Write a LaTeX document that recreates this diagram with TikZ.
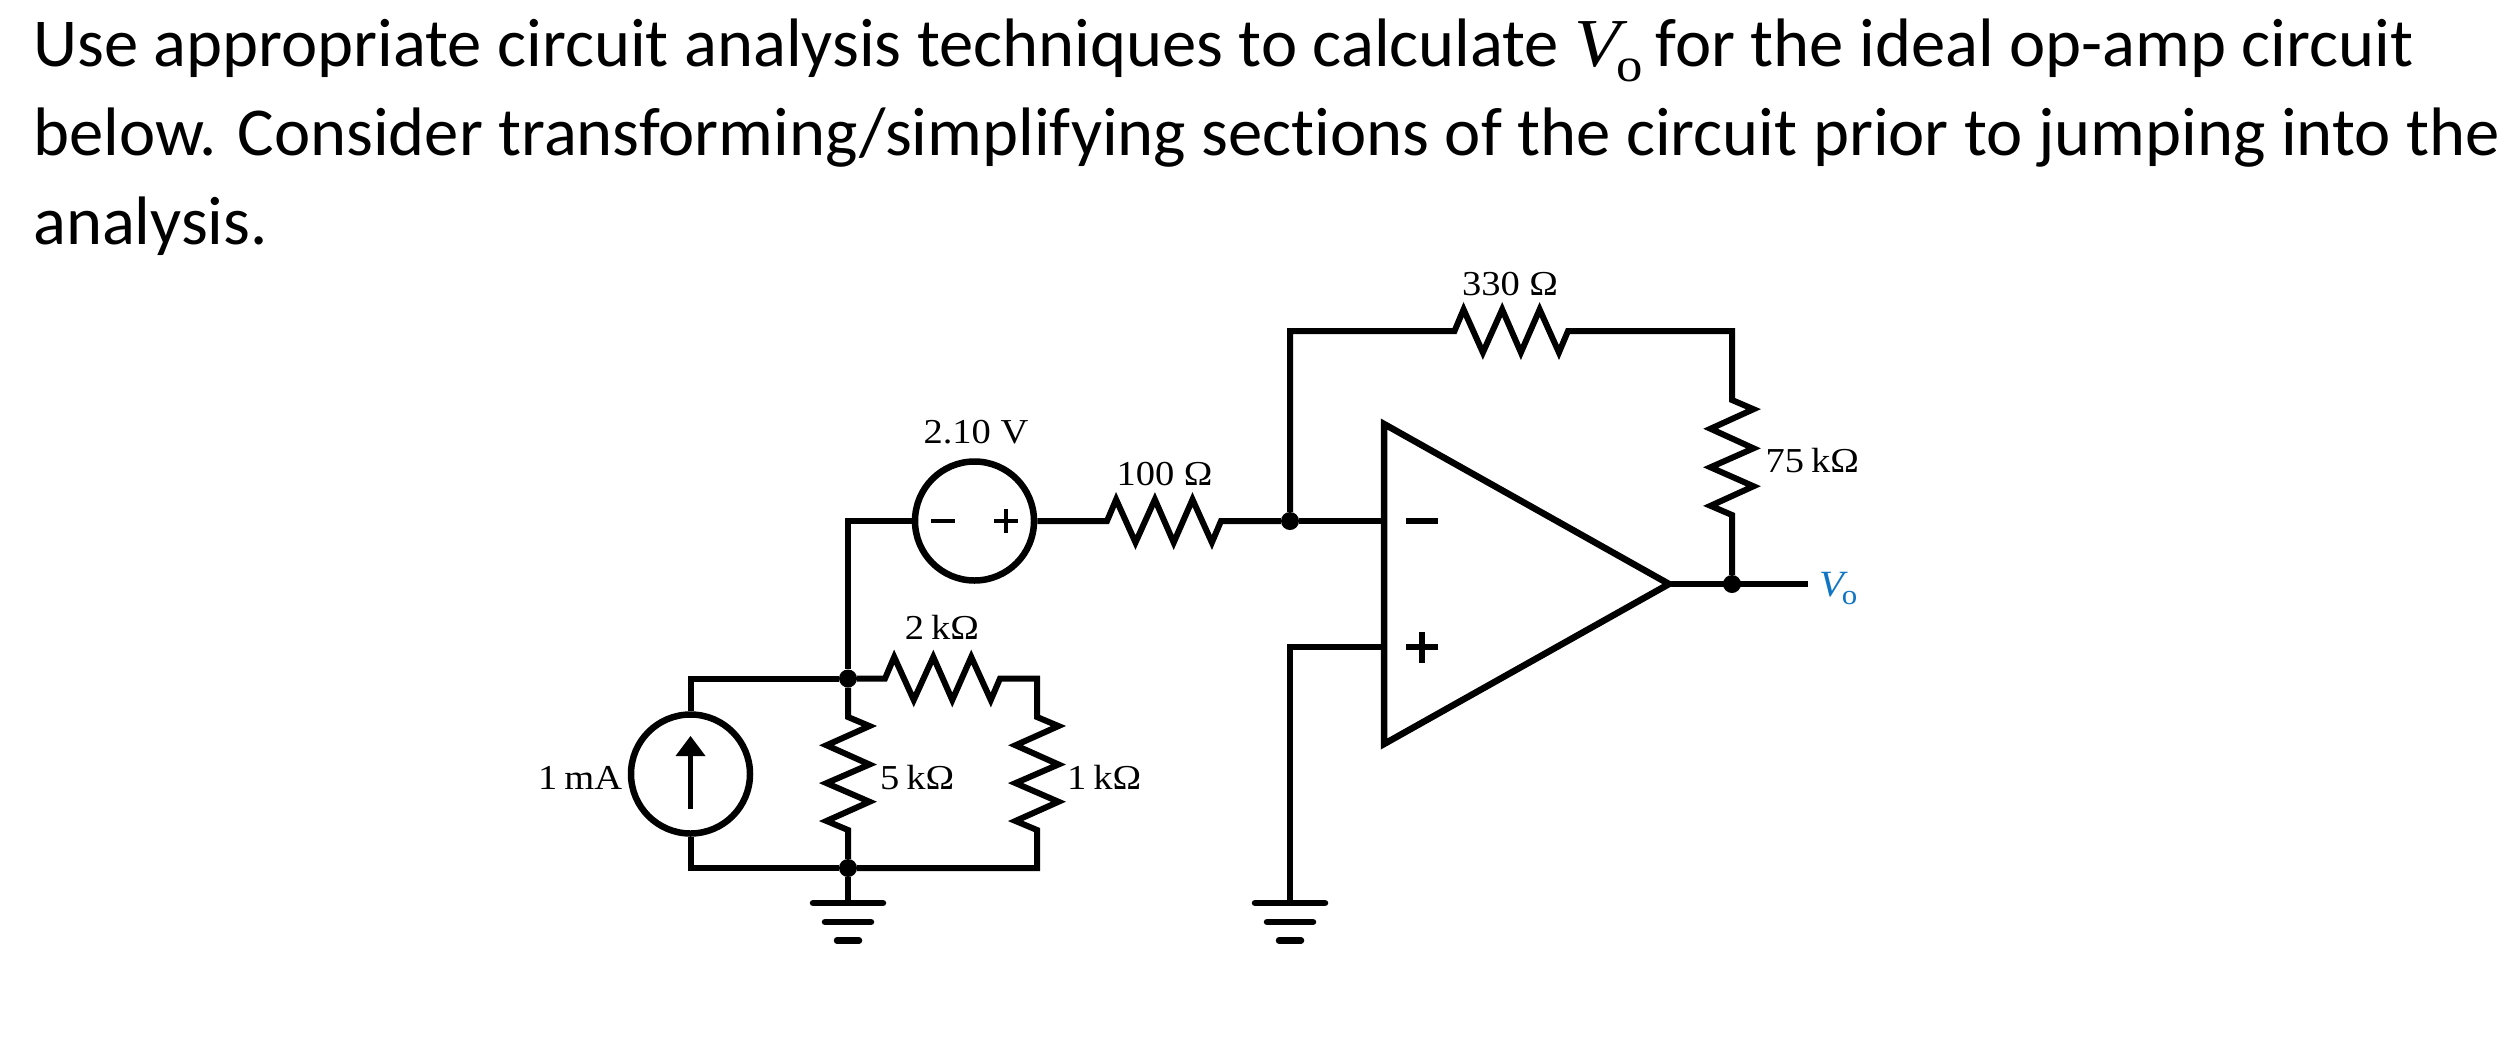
\documentclass[tikz,border=0pt]{standalone}
\usepackage{fontspec}
\setmainfont[Ligatures=NoCommon]{Carlito}
\newfontfamily\lblfont[FakeStretch=1.1]{Liberation Serif}
\usetikzlibrary{calc}
\definecolor{vblue}{HTML}{0F75C4}
\newcommand{\VoSym}[2]{{\lblfont\fontsize{#1}{#1}\selectfont\itshape V\kern-0.06em\raisebox{-0.22em}{\fontsize{#2}{#2}\selectfont\upshape o}}}
\tikzset{
  wire/.style={line width=6pt,line cap=butt,line join=miter},
  para/.style={inner sep=0pt,anchor=base west,font=\fontsize{68.6}{68.6}\selectfont},
  lbl/.style={inner sep=0pt,anchor=base,font=\lblfont\fontsize{35}{35}\selectfont},
  dot/.style={circle,fill=black,inner sep=0pt,minimum size=18pt},
  src/.style={circle,draw=black,line width=6.5pt,fill=white,inner sep=0pt,minimum size=119pt},
  res/.style={to path={
    -- ($(\tikztostart)!.08!(\tikztotarget)!21.5pt!90:(\tikztotarget)$)
    -- ($(\tikztostart)!.25!(\tikztotarget)!21.5pt!-90:(\tikztotarget)$)
    -- ($(\tikztostart)!.42!(\tikztotarget)!21.5pt!90:(\tikztotarget)$)
    -- ($(\tikztostart)!.585!(\tikztotarget)!21.5pt!-90:(\tikztotarget)$)
    -- ($(\tikztostart)!.75!(\tikztotarget)!21.5pt!90:(\tikztotarget)$)
    -- ($(\tikztostart)!.92!(\tikztotarget)!21.5pt!-90:(\tikztotarget)$)
    -- (\tikztotarget)}},
}
\begin{document}
\begin{tikzpicture}[x=1pt,y=-1pt]
\useasboundingbox (0,0) rectangle (2515,1039);
\fill[white] (0,0) rectangle (2515,1039);
% statement
\node[para] (l1) at (33,66.7) {Use appropriate circuit analysis techniques to calculate \VoSym{68.6}{48}\kern-3pt{} for the ideal op-amp circuit};
\node[para] (l2) at (33,155.5) {below. Consider transforming/simplifying sections of the circuit prior to jumping into the};
\node[para] (l3) at (33,244) {analysis.};
% sources
\node[src] (vs) at (974.5,521) {};
\node[src] (is) at (690.5,774) {};
% junctions
\node[dot] (jtop) at (848,678.5) {};
\node[dot] (jbot) at (848,868) {};
\node[dot] (jinv) at (1290,521) {};
\node[dot] (jout) at (1732,584) {};
% corner and terminal coordinates
\coordinate (cvl) at (848,521);
\coordinate (ctl) at (690.5,678.5);
\coordinate (cbl) at (690.5,868);
\coordinate (ctr) at (1037,678.5);
\coordinate (cbr) at (1037,868);
\coordinate (r2a) at (885,678.5);   \coordinate (r2b) at (1000,678.5);
\coordinate (r5a) at (848,717);     \coordinate (r5b) at (848,830);
\coordinate (r1a) at (1037,717);    \coordinate (r1b) at (1037,830);
\coordinate (r100a) at (1107,521);  \coordinate (r100b) at (1221,521);
\coordinate (r330a) at (1454.5,331);\coordinate (r330b) at (1568,331);
\coordinate (r75a) at (1732,400);   \coordinate (r75b) at (1732,515);
\coordinate (cfl) at (1290,331);
\coordinate (cfr) at (1732,331);
\coordinate (oaT) at (1384,424);
\coordinate (oaB) at (1384,744);
\coordinate (oaO) at (1669,584);
\coordinate (oaM) at (1384,521);
\coordinate (oaP) at (1384,647);
\coordinate (cpl) at (1290,647);
\coordinate (vout) at (1808,584);
\coordinate (g1) at (848,903);
\coordinate (g2) at (1290,903);
% wires
\draw[wire] (vs.west) -- (cvl) -- (jtop);
\draw[wire] (is.north) -- (ctl) -- (jtop);
\draw[wire] (is.south) -- (cbl) -- (jbot);
\draw[wire] (jtop) -- (r2a) to[res] (r2b) -- (ctr) -- (r1a) to[res] (r1b) -- (cbr) -- (jbot);
\draw[wire] (jtop) -- (r5a) to[res] (r5b) -- (jbot);
\draw[wire] (jbot) -- (g1);
\draw[wire] (vs.east) -- (r100a) to[res] (r100b) -- (jinv);
\draw[wire] (jinv) -- (oaM);
\draw[wire] (jinv) -- (cfl) -- (r330a) to[res] (r330b) -- (cfr) -- (r75a) to[res] (r75b) -- (jout);
\draw[wire] (oaP) -- (cpl) -- (g2);
\draw[wire] (oaO) -- (vout);
% op-amp
\draw[wire,line width=6.5pt] (oaT) -- (oaO) -- (oaB) -- cycle;
\draw[line width=6pt] (1406,521) -- (1438,521);
\draw[line width=6pt] (1406,647) -- (1438,647) (1422,632) -- (1422,663);
% grounds
\foreach \g/\o in {g1/0,g2/0}{
  \draw[wire,line width=6.5pt,line cap=round] ($(\g)+(-35,0)$) -- ($(\g)+(35,0)$);
  \draw[wire,line width=6.5pt,line cap=round] ($(\g)+(-23,19)$) -- ($(\g)+(23,19)$);
  \draw[wire,line width=6.5pt,line cap=round] ($(\g)+(-11,37.5)$) -- ($(\g)+(11,37.5)$);
}
% source symbols
\draw[line width=4pt] (931,521) -- (955,521) (994,521) -- (1018,521) (1006,509) -- (1006,533);
\draw[line width=5.5pt] (690.5,808.5) -- (690.5,752);
\fill (690.5,736) -- (705.5,756) -- (675.5,756) -- cycle;
% labels
\node[lbl] (t210) at (976,443) {2.10 V};
\node[lbl] (t100) at (1164.6,485) {100 Ω};
\node[lbl] (t2k) at (942,639.5) {2\kern7pt kΩ};
\node[lbl,anchor=base west] (t1m) at (538,789.5) {1\kern7pt mA};
\node[lbl,anchor=base west] (t5k) at (880,789.5) {5\kern7pt kΩ};
\node[lbl,anchor=base west] (t1k) at (1067,789.5) {1\kern7pt kΩ};
\node[lbl] (t330) at (1510,295) {330 Ω};
\node[lbl,anchor=base west] (t75) at (1765.5,472.7) {75\kern7pt kΩ};
\node[inner sep=0pt,anchor=base west,text=vblue] (tvo) at (1819,596) {\VoSym{37}{28}};
\end{tikzpicture}
\end{document}
